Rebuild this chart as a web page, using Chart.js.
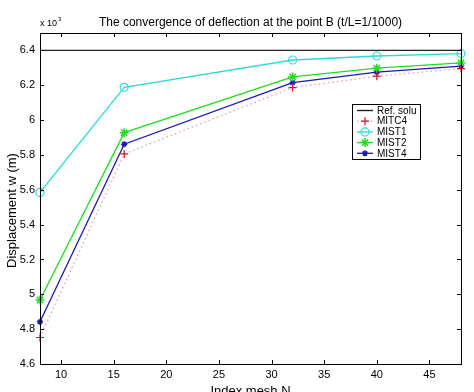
<!DOCTYPE html>
<html>
<head>
<meta charset="utf-8">
<script src="https://cdn.jsdelivr.net/npm/chart.js@4/dist/chart.umd.min.js"></script>
<style>
  html, body { margin: 0; padding: 0; background: #fff; }
  #wrap { width: 474px; height: 392px; position: relative; }
</style>
</head>
<body>
<div id="wrap"><canvas id="chart"></canvas></div>
<script>
// ==================== DATA ====================
const meshN = [8, 16, 32, 40, 48];
const refSolu = [6.4, 6.4, 6.4, 6.4, 6.4];
const mitc4 = [4.752, 5.806, 6.187, 6.252, 6.296];
const mist1 = [5.585, 6.188, 6.345, 6.368, 6.382];
const mist2 = [4.967, 5.928, 6.248, 6.298, 6.328];
const mist4 = [4.842, 5.862, 6.215, 6.275, 6.31];
const xTicks = [10, 15, 20, 25, 30, 35, 40, 45];
const yTicks = [4.6, 4.8, 5, 5.2, 5.4, 5.6, 5.8, 6, 6.2, 6.4];

const FONT = '"Liberation Sans", Arial, Helvetica, sans-serif';

function pts(vals) {
  return meshN.map((x, i) => ({ x: x, y: vals[i] }));
}

// ==================== DATASETS ====================
const datasets = [
  { label: 'Ref. solu', data: pts(refSolu), borderColor: '#222', borderWidth: 1.4,
    pointRadius: 0, pointStyle: false },
  { label: 'MITC4', data: pts(mitc4), borderColor: '#e0a0a8', borderWidth: 1.3, borderDash: [1.5, 3],
    pointStyle: 'cross', pointRadius: 4, pointBorderColor: '#e0102a', pointBorderWidth: 1.2 },
  { label: 'MIST1', data: pts(mist1), borderColor: '#2fd8d8', borderWidth: 1.3,
    pointStyle: 'circle', pointRadius: 4, pointBackgroundColor: 'rgba(0,0,0,0)',
    pointBorderColor: '#2fd8d8', pointBorderWidth: 1.2 },
  { label: 'MIST2', data: pts(mist2), borderColor: '#22dd22', borderWidth: 1.3,
    pointStyle: 'star', pointRadius: 4.5, pointBorderColor: '#22dd22', pointBorderWidth: 1.5 },
  { label: 'MIST4', data: pts(mist4), borderColor: '#1a1ab8', borderWidth: 1.3,
    pointStyle: 'star', pointRadius: 3, pointBorderColor: '#1a1ab8', pointBorderWidth: 1.5 }
];
datasets.forEach(d => { d.clip = false; d.fill = false; d.tension = 0; });

// ==================== PLUGIN: frame, ticks, texts, legend ====================
const matlabFrame = {
  id: 'matlabFrame',
  afterDraw(chart) {
    const ctx = chart.ctx;
    const a = chart.chartArea;
    const xs = chart.scales.x, ys = chart.scales.y;
    ctx.save();
    ctx.strokeStyle = '#000';
    ctx.lineWidth = 1;
    ctx.strokeRect(Math.round(a.left) + 0.5, Math.round(a.top) + 0.5,
      Math.round(a.right - a.left), Math.round(a.bottom - a.top));

    // inward ticks on all sides
    const tl = 4;
    ctx.beginPath();
    xTicks.forEach(v => {
      const px = Math.round(xs.getPixelForValue(v)) + 0.5;
      ctx.moveTo(px, a.bottom); ctx.lineTo(px, a.bottom - tl);
      ctx.moveTo(px, a.top); ctx.lineTo(px, a.top + tl);
    });
    yTicks.forEach(v => {
      const py = Math.round(ys.getPixelForValue(v)) + 0.5;
      ctx.moveTo(a.left, py); ctx.lineTo(a.left + tl, py);
      ctx.moveTo(a.right, py); ctx.lineTo(a.right - tl, py);
    });
    ctx.stroke();

    // title
    ctx.fillStyle = '#000';
    ctx.textAlign = 'center';
    ctx.textBaseline = 'alphabetic';
    ctx.font = '12px ' + FONT;
    ctx.fillText('The convergence of deflection at the point B (t/L=1/1000)', (a.left + a.right) / 2, 26);

    // exponent
    ctx.textAlign = 'left';
    ctx.font = '9px ' + FONT;
    ctx.fillText('x 10', 40, 26);
    const w = ctx.measureText('x 10').width;
    ctx.font = '6px ' + FONT;
    ctx.fillText('3', 40 + w + 1, 21);

    // axis titles
    ctx.font = '13px ' + FONT;
    ctx.textAlign = 'center';
    ctx.fillText('Index mesh N', (a.left + a.right) / 2, 395);
    ctx.save();
    ctx.translate(16, (a.top + a.bottom) / 2 + 12);
    ctx.rotate(-Math.PI / 2);
    ctx.fillText('Displacement w (m)', 0, 0);
    ctx.restore();

    // legend
    const lx = 352, ly = 104, lw = 68, lh = 55;
    ctx.fillStyle = '#fff';
    ctx.fillRect(lx, ly, lw, lh);
    ctx.strokeStyle = '#000';
    ctx.lineWidth = 1;
    ctx.strokeRect(lx + 0.5, ly + 0.5, lw, lh);
    ctx.font = '10px ' + FONT;
    ctx.textAlign = 'left';
    ctx.textBaseline = 'middle';
    chart.data.datasets.forEach((d, i) => {
      const cy = ly + 6.5 + i * 10.7;
      ctx.save();
      ctx.strokeStyle = d.borderColor;
      ctx.lineWidth = d.borderWidth;
      ctx.setLineDash(d.borderDash || []);
      ctx.beginPath();
      ctx.moveTo(357, cy); ctx.lineTo(373, cy);
      ctx.stroke();
      ctx.restore();
      if (d.pointStyle) {
        ctx.save();
        ctx.strokeStyle = d.pointBorderColor;
        ctx.fillStyle = d.pointBackgroundColor || d.pointBorderColor;
        ctx.lineWidth = d.pointBorderWidth;
        Chart.helpers.drawPoint(ctx, {
          pointStyle: d.pointStyle, radius: d.pointRadius, borderWidth: d.pointBorderWidth
        }, 365, cy);
        ctx.restore();
      }
      ctx.fillStyle = '#000';
      ctx.fillText(d.label, 377, cy + 0.5);
    });
    ctx.restore();
  }
};

// ==================== CHART ====================
const chart = new Chart(document.getElementById('chart'), {
  type: 'line',
  data: { datasets: datasets },
  options: {
    responsive: true,
    maintainAspectRatio: false,
    animation: false,
    layout: { padding: { top: 33, right: 13, left: 0, bottom: 0 } },
    plugins: {
      legend: { display: false },
      tooltip: { enabled: false }
    },
    scales: {
      x: {
        type: 'linear',
        min: 8, max: 48,
        afterBuildTicks: s => { s.ticks = xTicks.map(v => ({ value: v })); },
        afterFit: s => { s.height = 28; },
        grid: { display: false, drawTicks: false },
        border: { display: false },
        ticks: { color: '#000', padding: 4, font: { family: FONT, size: 11 }, maxRotation: 0 }
      },
      y: {
        type: 'linear',
        min: 4.6, max: 6.5,
        afterBuildTicks: s => { s.ticks = yTicks.map(v => ({ value: v })); },
        afterFit: s => { s.width = 40; },
        grid: { display: false, drawTicks: false },
        border: { display: false },
        ticks: { color: '#000', padding: 5, font: { family: FONT, size: 11 },
          callback: v => String(+Number(v).toFixed(1)) }
      }
    }
  },
  plugins: [matlabFrame]
});
</script>
</body>
</html>
